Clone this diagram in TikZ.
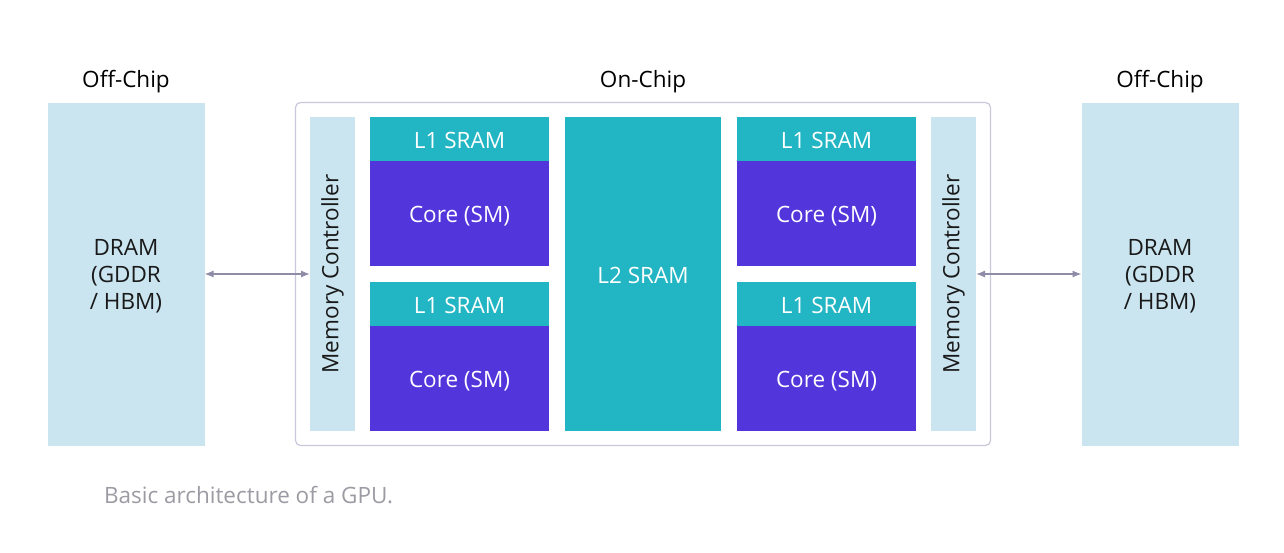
\documentclass[tikz,border=0pt]{standalone}
\usepackage{fontspec}
\setmainfont{Open Sans}
\usepackage{tikz}
\usetikzlibrary{arrows.meta,positioning,fit,calc}
\definecolor{paleblue}{HTML}{CAE5F0}
\definecolor{teal}{HTML}{22B5C3}
\definecolor{violet}{HTML}{5236DB}
\definecolor{chipgray}{HTML}{C9C7DA}
\definecolor{linkgray}{HTML}{8E8CA6}
\definecolor{capgray}{HTML}{9B9BA3}

\begin{document}
\begin{tikzpicture}[x=1pt,y=1pt,
  every node/.style={font=\fontsize{22.5}{27}\selectfont,outer sep=0pt,inner sep=0pt},
  dram/.style={fill=paleblue,minimum width=157pt,minimum height=343pt,align=center,text=black!90,text depth=-3pt},
  memctl/.style={fill=paleblue,minimum width=45pt,minimum height=314pt,text=black!90},
  sram/.style={fill=teal,minimum width=179pt,minimum height=44pt,text=white,text height=21pt,text depth=3pt},
  core/.style={fill=violet,minimum width=179pt,minimum height=105pt,text=white,text height=21pt,text depth=3pt},
  chip/.style={draw=chipgray,line width=1.2pt,rounded corners=5pt,inner sep=14.5pt},
  link/.style={{Latex[length=9pt,width=7pt]}-{Latex[length=9pt,width=7pt]},draw=linkgray,line width=1.3pt},
  node distance=15pt and 15pt]
  \useasboundingbox (0,0) rectangle (1284,-552);
  % on-chip part
  \node[memctl,anchor=north west] (mcl) at (310,-117) {\rotatebox{90}{Memory Controller}};
  \node[sram,right=15pt of mcl.north east,anchor=north west] (l1a) {L1 SRAM};
  \node[core,below=0pt of l1a] (corea) {Core (SM)};
  \node[sram,below=16pt of corea] (l1b) {L1 SRAM};
  \node[core,below=0pt of l1b] (coreb) {Core (SM)};
  \node[fill=teal,minimum width=156pt,minimum height=314pt,text=white,text height=21pt,text depth=3pt,right=16pt of l1a.north east,anchor=north west] (l2) {L2 SRAM};
  \node[sram,right=16pt of l2.north east,anchor=north west] (l1c) {L1 SRAM};
  \node[core,below=0pt of l1c] (corec) {Core (SM)};
  \node[sram,below=16pt of corec] (l1d) {L1 SRAM};
  \node[core,below=0pt of l1d] (cored) {Core (SM)};
  \node[memctl,right=15pt of l1c.north east,anchor=north west] (mcr) {\rotatebox{90}{Memory Controller}};
  \node[chip,fit=(mcl)(mcr)] (chip) {};
  % off-chip memory
  \node[dram,left=91pt of chip] (draml) {DRAM\\(GDDR\\/ HBM)};
  \node[dram,right=91pt of chip] (dramr) {DRAM\\(GDDR\\/ HBM)};
  \node[anchor=base] (offl) at ($(draml.north)+(0,15)$) {Off-Chip};
  \node[anchor=base] (on) at ($(chip.north)+(0,15)$) {On-Chip};
  \node[anchor=base] (offr) at ($(dramr.north)+(0,15)$) {Off-Chip};
  \draw[link] (draml) -- (mcl);
  \draw[link] (mcr) -- (dramr);
  \node[anchor=base west,text=capgray] (caption) at (104,-503) {Basic architecture of a GPU.};
\end{tikzpicture}
\end{document}
